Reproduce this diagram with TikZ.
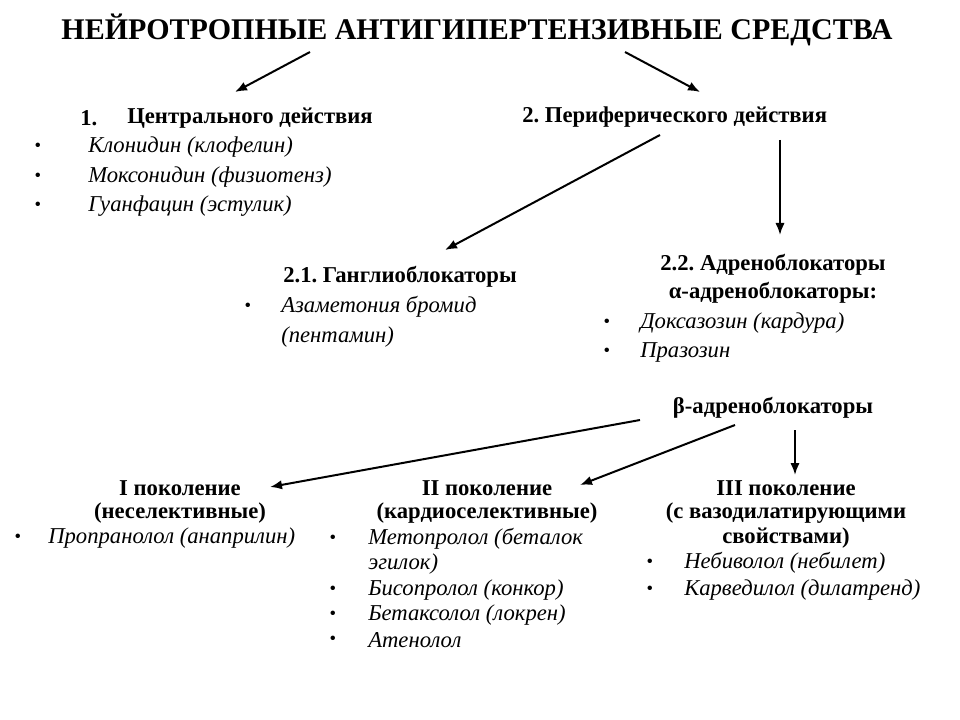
\documentclass[tikz,border=0pt]{standalone}
\usepackage{fontspec}
\usetikzlibrary{arrows.meta}
\setmainfont{Liberation Serif}
\frenchspacing
\begin{document}
\begin{tikzpicture}[x=0.75pt,y=-0.75pt,
 b/.style={font=\fontsize{17}{19}\selectfont\bfseries,inner sep=0},
 it/.style={font=\fontsize{17}{19}\selectfont\itshape,anchor=west,inner sep=0},
 bl/.style={font=\fontsize{14}{16}\selectfont,inner sep=0},
 ar/.style={-{Latex[length=9pt,width=7pt]},line width=1.5pt}]
\useasboundingbox (0,0) rectangle (960,720);
\node[b,font=\fontsize{22.5}{24}\selectfont\bfseries] (t) at (477,30) {НЕЙРОТРОПНЫЕ АНТИГИПЕРТЕНЗИВНЫЕ СРЕДСТВА};
\coordinate (t1) at (310,52); \coordinate (c1) at (235,92);
\coordinate (t2) at (625,52); \coordinate (c2) at (700,92);
\draw[ar] (t1)--(c1); \draw[ar] (t2)--(c2);
\node[b,anchor=west] (n1) at (80,118) {1.};
\node[b,anchor=west] (c) at (127,118) {Центрального действия};
\foreach \y/\s [count=\i] in {147/Клонидин (клофелин),177/Моксонидин (физиотенз),206/Гуанфацин (эстулик)}{
 \node[bl] (cb\i) at (38,\y) {•}; \node[it] (ci\i) at (88,\y) {\s};}
\node[b,anchor=west] (p) at (522,117) {2. Периферического действия};
\coordinate (p1) at (660,135); \coordinate (g0) at (445,250);
\coordinate (p2) at (780,140); \coordinate (a0) at (780,235);
\draw[ar] (p1)--(g0); \draw[ar] (p2)--(a0);
\node[b,anchor=west] (g) at (283,277) {2.1. Ганглиоблокаторы};
\node[bl] (gb) at (248,307) {•};
\node[it] (g1) at (281,307) {Азаметония бромид};
\node[it] (g2) at (281,337) {(пентамин)};
\node[b] (a) at (773,265) {2.2. Адреноблокаторы};
\node[b] (aa) at (773,293) {α-адреноблокаторы:};
\node[bl] (ab1) at (607,323) {•}; \node[it] (a1) at (640,323) {Доксазозин (кардура)};
\node[bl] (ab2) at (607,352) {•}; \node[it] (a2) at (640,352) {Празозин};
\node[b] (be) at (773,408) {β-адреноблокаторы};
\coordinate (b1) at (640,420); \coordinate (k1) at (270,487);
\coordinate (b2) at (735,425); \coordinate (k2) at (580,485);
\coordinate (b3) at (795,430); \coordinate (k3) at (795,475);
\draw[ar] (b1)--(k1); \draw[ar] (b2)--(k2); \draw[ar] (b3)--(k3);
\node[b] (i1) at (180,488) {I поколение};
\node[b] (i2) at (180,513) {(неселективные)};
\node[bl] (ib) at (18,538) {•}; \node[it] (ii) at (48,538) {Пропранолол (анаприлин)};
\node[b] (j1) at (487,488) {II поколение};
\node[b] (j2) at (487,513) {(кардиоселективные)};
\foreach \y/\s [count=\i] in {539/Метопролол (беталок,564/эгилок),590/Бисопролол (конкор),615/Бетаксолол (локрен),640/Атенолол}{
 \node[it] (ji\i) at (368,\y) {\s};}
\foreach \y [count=\i] in {539,590,615,640}{\node[bl] (jb\i) at (333,\y) {•};}
\node[b] (l1) at (786,488) {III поколение};
\node[b] (l2) at (786,513) {(с вазодилатирующими};
\node[b] (l3) at (786,538) {свойствами)};
\node[bl] (lb1) at (650,563) {•}; \node[it] (li1) at (684,563) {Небиволол (небилет)};
\node[bl] (lb2) at (650,590) {•}; \node[it] (li2) at (684,590) {Карведилол (дилатренд)};
\end{tikzpicture}
\end{document}
